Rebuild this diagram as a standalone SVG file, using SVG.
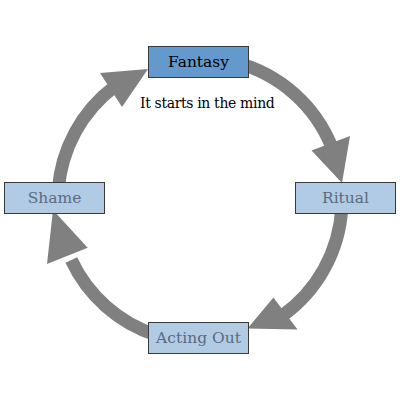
<svg xmlns="http://www.w3.org/2000/svg" width="400" height="400" viewBox="0 0 400 400">
<style>
.shaft{fill:none;stroke:#808080;stroke-width:13}
.head{fill:#808080}
.box{fill:#b1cbe5;stroke:#3a3a3a;stroke-width:1}
.main{fill:#6399cc}
.lbl{font-family:"DejaVu Serif","Liberation Serif",serif;font-size:15.5px;text-anchor:middle;fill:#5b6a80}
.note{font-family:"DejaVu Serif","Liberation Serif",serif;font-size:14px;letter-spacing:-0.35px;fill:#000}
</style>
<rect width="400" height="400" fill="#fff"/>
<g id="connectors">
<path class="shaft" d="M236.8,62.8 A142,142 0 0 1 331.7,146.8"/>
<polygon class="head" points="311.5,150.4 350,136 342,183"/>
<path class="shaft" d="M341.8,207.4 A142,142 0 0 1 281.4,316.3"/>
<polygon class="head" points="273.4,297.4 297.5,329.4 247.5,328.5"/>
<path class="shaft" d="M156.1,335 A142,142 0 0 1 71.3,260"/>
<polygon class="head" points="87.7,247.7 47,264 53,210"/>
<path class="shaft" d="M58.3,190.1 A142,142 0 0 1 114.5,86.6"/>
<polygon class="head" points="122,107 100,73 148,69"/>
</g>
<g id="fantasy">
<rect class="box main" x="148.5" y="46.5" width="100" height="31"/>
<text class="lbl" x="198.5" y="67" style="fill:#000">Fantasy</text>
</g>
<g id="note">
<text class="note" x="140" y="108">It starts in the mind</text>
</g>
<g id="ritual">
<rect class="box" x="295.5" y="182.5" width="100" height="31"/>
<text class="lbl" x="345.5" y="203">Ritual</text>
</g>
<g id="acting-out">
<rect class="box" x="148.5" y="322.5" width="100" height="31"/>
<text class="lbl" x="198.5" y="343">Acting Out</text>
</g>
<g id="shame">
<rect class="box" x="4.5" y="182.5" width="100" height="31"/>
<text class="lbl" x="54.5" y="203">Shame</text>
</g>
</svg>
